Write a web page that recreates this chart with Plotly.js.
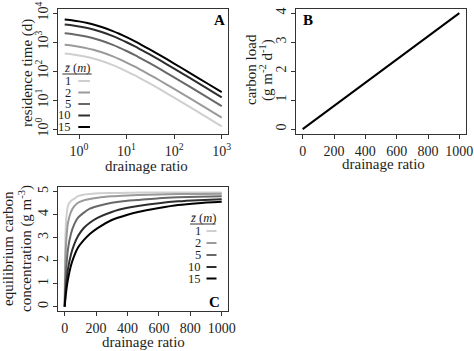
<!DOCTYPE html>
<html>
<head>
<meta charset="utf-8">
<script src="https://cdn.plot.ly/plotly-3.0.1.min.js"></script>
<style>html,body{margin:0;padding:0;background:#fff;}#chart{width:474px;height:351px;}</style>
</head>
<body>
<div id="chart"></div>
<script>
// ---------- data ----------
const depthLabels = ['1', '2', '5', '10', '15'];

// Panel A: residence time (d) vs drainage ratio (log-log)
const drA = [0.5, 0.75, 1, 1.5, 2, 3, 5, 7, 10, 15, 20, 30, 50, 100, 200, 500, 1000];
const tauZ1  = [403, 373, 347, 305, 272, 223, 164, 130, 99, 71, 55, 38.3, 23.8, 12.2, 6.2, 2.5, 1.25];
const tauZ2  = [806, 746, 694, 610, 544, 446, 328, 260, 198, 142, 110, 76.6, 47.6, 24.4, 12.4, 5.0, 2.5];
const tauZ5  = [2015, 1865, 1735, 1525, 1360, 1115, 820, 650, 495, 355, 275, 192, 119, 61, 31, 12.5, 6.25];
const tauZ10 = [4030, 3730, 3470, 3050, 2720, 2230, 1640, 1300, 990, 710, 550, 383, 238, 122, 62, 25, 12.5];
const tauZ15 = [6045, 5595, 5205, 4575, 4080, 3345, 2460, 1950, 1485, 1065, 825, 575, 357, 183, 93, 37.5, 18.8];
const tauA = [tauZ1, tauZ2, tauZ5, tauZ10, tauZ15];
const tickValsA_x = [1, 10, 100, 1000];
const tickTextA_x = ['10<sup>0</sup>', '10<sup>1</sup>', '10<sup>2</sup>', '10<sup>3</sup>'];
const tickValsA_y = [1, 10, 100, 1000, 10000];
const tickTextA_y = ['10<sup>0</sup>', '10<sup>1</sup>', '10<sup>2</sup>', '10<sup>3</sup>', '10<sup>4</sup>'];

// Panel B: carbon load vs drainage ratio
const drB = [0, 1000];
const loadB = [0, 4];

// Panel C: equilibrium carbon concentration vs drainage ratio
const drC = [0, 1, 2.5, 5, 10, 21, 40, 60, 85, 120, 160, 212, 300, 400, 467, 600, 722, 850, 1000];
const concZ1  = [0, 1.25, 2.27, 3.1, 3.85, 4.38, 4.6, 4.69, 4.81, 4.87, 4.9, 4.93, 4.94, 4.95, 4.96, 4.97, 4.97, 4.97, 4.97];
const concZ2  = [0, 0.63, 1.3, 2.08, 2.86, 3.65, 4.12, 4.36, 4.52, 4.62, 4.68, 4.74, 4.8, 4.84, 4.86, 4.88, 4.9, 4.9, 4.91];
const concZ5  = [0, 0.25, 0.58, 1.04, 1.67, 2.5, 3.17, 3.57, 3.87, 4.08, 4.26, 4.38, 4.52, 4.61, 4.64, 4.72, 4.76, 4.78, 4.8];
const concZ10 = [0, 0.13, 0.31, 0.58, 1.0, 1.63, 2.27, 2.7, 3.07, 3.41, 3.65, 3.87, 4.12, 4.3, 4.38, 4.5, 4.58, 4.63, 4.67];
const concZ15 = [0, 0.08, 0.2, 0.38, 0.69, 1.19, 1.79, 2.2, 2.57, 2.88, 3.16, 3.43, 3.77, 4.0, 4.12, 4.29, 4.42, 4.5, 4.56];
const concC = [concZ1, concZ2, concZ5, concZ10, concZ15];

// ---------- style ----------
const W = 474, H = 351;
const colors = ['#cfcfcf', '#9a9a9a', '#686868', '#2e2e2e', '#000000'];
const FONT = 'Liberation Serif';
const TXT = '#1e1e1e';
const px = x => x / W;
const py = y => 1 - y / H;

const traces = [];
depthLabels.forEach((lab, i) => {
  traces.push({x: drA, y: tauA[i], xaxis: 'x', yaxis: 'y', type: 'scatter', mode: 'lines',
    line: {color: colors[i], width: 2, shape: 'spline', smoothing: 0.8}, hoverinfo: 'skip'});
});
traces.push({x: drB, y: loadB, xaxis: 'x2', yaxis: 'y2', type: 'scatter', mode: 'lines',
  line: {color: '#000', width: 2}, hoverinfo: 'skip'});
depthLabels.forEach((lab, i) => {
  traces.push({x: drC, y: concC[i], xaxis: 'x3', yaxis: 'y3', type: 'scatter', mode: 'lines',
    line: {color: colors[i], width: 2, shape: 'spline', smoothing: 0.6}, hoverinfo: 'skip'});
});

const axBase = {
  showgrid: false, zeroline: false, showline: true, mirror: true, linecolor: '#333', linewidth: 1,
  ticks: 'outside', ticklen: 4, tickwidth: 1, tickcolor: '#333',
  tickfont: {family: FONT, size: 14, color: TXT}
};
const domAx = [px(58.4), px(228)];
const domBx = [px(296.4), px(465.6)];
const domABy = [py(133.8), py(8.5)];
const domCy = [py(311.3), py(187.1)];

const layout = {
  width: W, height: H, margin: {l: 0, r: 0, t: 0, b: 0},
  paper_bgcolor: '#fff', plot_bgcolor: '#fff', showlegend: false,
  font: {family: FONT, color: TXT},
  xaxis: Object.assign({}, axBase, {type: 'log', domain: domAx, range: [-0.433, 3.132],
    tickvals: tickValsA_x, ticktext: tickTextA_x, anchor: 'y'}),
  yaxis: Object.assign({}, axBase, {type: 'log', domain: domABy, range: [-0.16, 4.16],
    tickvals: tickValsA_y, ticktext: tickTextA_y, tickangle: -90, anchor: 'x'}),
  xaxis2: Object.assign({}, axBase, {domain: domBx, range: [-40, 1040],
    tickvals: [0, 200, 400, 600, 800, 1000], anchor: 'y2'}),
  yaxis2: Object.assign({}, axBase, {domain: domABy, range: [-0.16, 4.16],
    tickvals: [0, 1, 2, 3, 4], tickangle: -90, anchor: 'x2'}),
  xaxis3: Object.assign({}, axBase, {domain: domAx, range: [-40, 1040],
    tickvals: [0, 200, 400, 600, 800, 1000], anchor: 'y3'}),
  yaxis3: Object.assign({}, axBase, {domain: domCy, range: [-0.2, 5.2],
    tickvals: [0, 1, 2, 3, 4, 5], tickangle: -90, anchor: 'x3'}),
  annotations: [],
  shapes: []
};

function txt(x, y, text, opts) {
  layout.annotations.push(Object.assign({
    xref: 'paper', yref: 'paper', x: px(x), y: py(y), text: text, showarrow: false,
    xanchor: 'center', yanchor: 'middle', font: {family: FONT, size: 15, color: TXT}
  }, opts || {}));
}
// axis titles
txt(146, 166, 'drainage ratio');
txt(383, 164, 'drainage ratio');
txt(143.5, 342, 'drainage ratio');
txt(27, 73, 'residence time (d)', {textangle: -90});
txt(251, 70, 'carbon load', {textangle: -90});
txt(266, 70, '(g m<sup>-2</sup> d<sup>-1</sup>)', {textangle: -90});
txt(8, 249, 'equilibrium carbon', {textangle: -90});
txt(25, 249, 'concentration (g m<sup>-3</sup>)', {textangle: -90});
// panel letters
const bold = {font: {family: FONT, size: 15, color: '#000'}};
txt(219, 20, '<b>A</b>', bold);
txt(307.5, 20, '<b>B</b>', bold);
txt(214, 302, '<b>C</b>', bold);

// manual legends
const legFont = {family: FONT, size: 12.5, color: TXT};
function legend(titleX, titleY, ulX0, ulX1, ulY, numRight, segX0, segX1, rows) {
  txt(titleX, titleY, '<i>z̄</i> (<i>m</i>)', {font: legFont});
  layout.shapes.push({type: 'line', xref: 'paper', yref: 'paper', x0: px(ulX0), x1: px(ulX1),
    y0: py(ulY), y1: py(ulY), line: {color: '#333', width: 1}});
  depthLabels.forEach((lab, i) => {
    txt(numRight, rows[i], lab, {xanchor: 'right', font: legFont});
    layout.shapes.push({type: 'line', xref: 'paper', yref: 'paper', x0: px(segX0), x1: px(segX1),
      y0: py(rows[i]), y1: py(rows[i]), line: {color: colors[i], width: 2}});
  });
}
legend(77, 67.5, 62.3, 91.7, 74, 73, 78.3, 90, [81, 92.5, 104, 115.5, 127]);
legend(202.5, 218, 190, 215.5, 224, 203, 206.5, 216.5, [231, 243, 255, 267, 278.5]);

Plotly.newPlot('chart', traces, layout, {staticPlot: true, displayModeBar: false});
</script>
</body>
</html>
